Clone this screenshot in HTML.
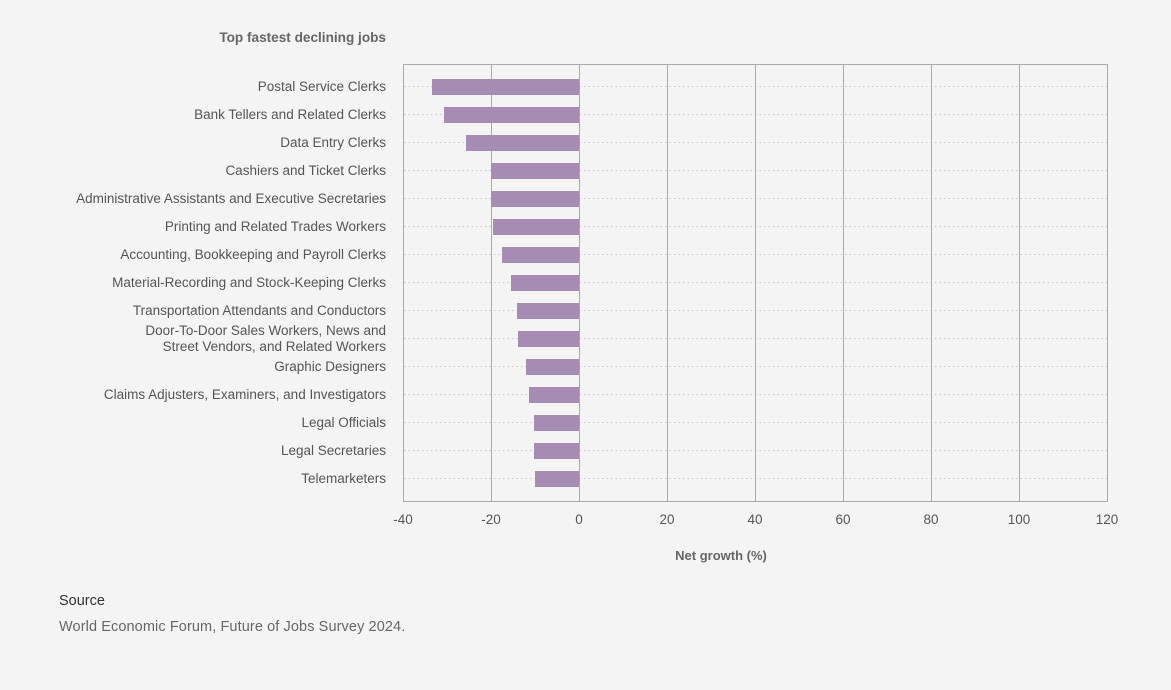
<!DOCTYPE html>
<html><head><meta charset="utf-8"><style>
html,body{margin:0;padding:0;background:#f4f4f4;}
svg{display:block;font-family:"Liberation Sans",Arial,sans-serif;}
</style></head><body>
<svg width="1171" height="690" viewBox="0 0 1171 690" xmlns="http://www.w3.org/2000/svg">
<rect width="1171" height="690" fill="#f4f4f4"/>
<text x="386" y="42" text-anchor="end" font-size="13.6" font-weight="bold" fill="#666">Top fastest declining jobs</text>
<g stroke="#c8c8c8" stroke-width="1" stroke-dasharray="1.5,3">
<line x1="404" x2="1107" y1="86.5" y2="86.5"/><line x1="404" x2="1107" y1="114.5" y2="114.5"/>
<line x1="404" x2="1107" y1="142.5" y2="142.5"/><line x1="404" x2="1107" y1="170.5" y2="170.5"/>
<line x1="404" x2="1107" y1="198.5" y2="198.5"/><line x1="404" x2="1107" y1="226.5" y2="226.5"/>
<line x1="404" x2="1107" y1="254.5" y2="254.5"/><line x1="404" x2="1107" y1="282.5" y2="282.5"/>
<line x1="404" x2="1107" y1="310.5" y2="310.5"/><line x1="404" x2="1107" y1="338.5" y2="338.5"/>
<line x1="404" x2="1107" y1="366.5" y2="366.5"/><line x1="404" x2="1107" y1="394.5" y2="394.5"/>
<line x1="404" x2="1107" y1="422.5" y2="422.5"/><line x1="404" x2="1107" y1="450.5" y2="450.5"/>
<line x1="404" x2="1107" y1="478.5" y2="478.5"/>
</g>
<g stroke="#aaa" stroke-width="1">
<line x1="491.5" x2="491.5" y1="65" y2="501"/><line x1="579.5" x2="579.5" y1="65" y2="501"/>
<line x1="667.5" x2="667.5" y1="65" y2="501"/><line x1="755.5" x2="755.5" y1="65" y2="501"/>
<line x1="843.5" x2="843.5" y1="65" y2="501"/><line x1="931.5" x2="931.5" y1="65" y2="501"/>
<line x1="1019.5" x2="1019.5" y1="65" y2="501"/>
</g>
<g fill="#a68bb3">
<rect x="432" y="79" width="147" height="16"/>
<rect x="444" y="107" width="135" height="16"/>
<rect x="466" y="135" width="113" height="16"/>
<rect x="491" y="163" width="88" height="16"/>
<rect x="491" y="191" width="88" height="16"/>
<rect x="493" y="219" width="86" height="16"/>
<rect x="502" y="247" width="77" height="16"/>
<rect x="511" y="275" width="68" height="16"/>
<rect x="517" y="303" width="62" height="16"/>
<rect x="518" y="331" width="61" height="16"/>
<rect x="526" y="359" width="53" height="16"/>
<rect x="529" y="387" width="50" height="16"/>
<rect x="534" y="415" width="45" height="16"/>
<rect x="534" y="443" width="45" height="16"/>
<rect x="535" y="471" width="44" height="16"/>
</g>
<rect x="403.5" y="64.5" width="704" height="437" fill="none" stroke="#aaa" stroke-width="1"/>
<g font-size="13.5" fill="#555" text-anchor="end">
<text x="386" y="91">Postal Service Clerks</text>
<text x="386" y="119">Bank Tellers and Related Clerks</text>
<text x="386" y="147">Data Entry Clerks</text>
<text x="386" y="175">Cashiers and Ticket Clerks</text>
<text x="386" y="203">Administrative Assistants and Executive Secretaries</text>
<text x="386" y="231">Printing and Related Trades Workers</text>
<text x="386" y="259">Accounting, Bookkeeping and Payroll Clerks</text>
<text x="386" y="287">Material-Recording and Stock-Keeping Clerks</text>
<text x="386" y="315">Transportation Attendants and Conductors</text>
<text x="386" y="335">Door-To-Door Sales Workers, News and</text>
<text x="386" y="351">Street Vendors, and Related Workers</text>
<text x="386" y="371">Graphic Designers</text>
<text x="386" y="399">Claims Adjusters, Examiners, and Investigators</text>
<text x="386" y="427">Legal Officials</text>
<text x="386" y="455">Legal Secretaries</text>
<text x="386" y="483">Telemarketers</text>
</g>
<g font-size="13.5" fill="#555" text-anchor="middle">
<text x="403" y="524">-40</text><text x="491" y="524">-20</text><text x="579" y="524">0</text>
<text x="667" y="524">20</text><text x="755" y="524">40</text><text x="843" y="524">60</text>
<text x="931" y="524">80</text><text x="1019" y="524">100</text><text x="1107" y="524">120</text>
</g>
<text x="721" y="560" text-anchor="middle" font-size="13" font-weight="bold" fill="#666">Net growth (%)</text>
<text x="59" y="605" font-size="14.5" fill="#333">Source</text>
<text x="59" y="631" font-size="14.5" fill="#666" letter-spacing="0.1">World Economic Forum, Future of Jobs Survey 2024.</text>
</svg>
</body></html>
